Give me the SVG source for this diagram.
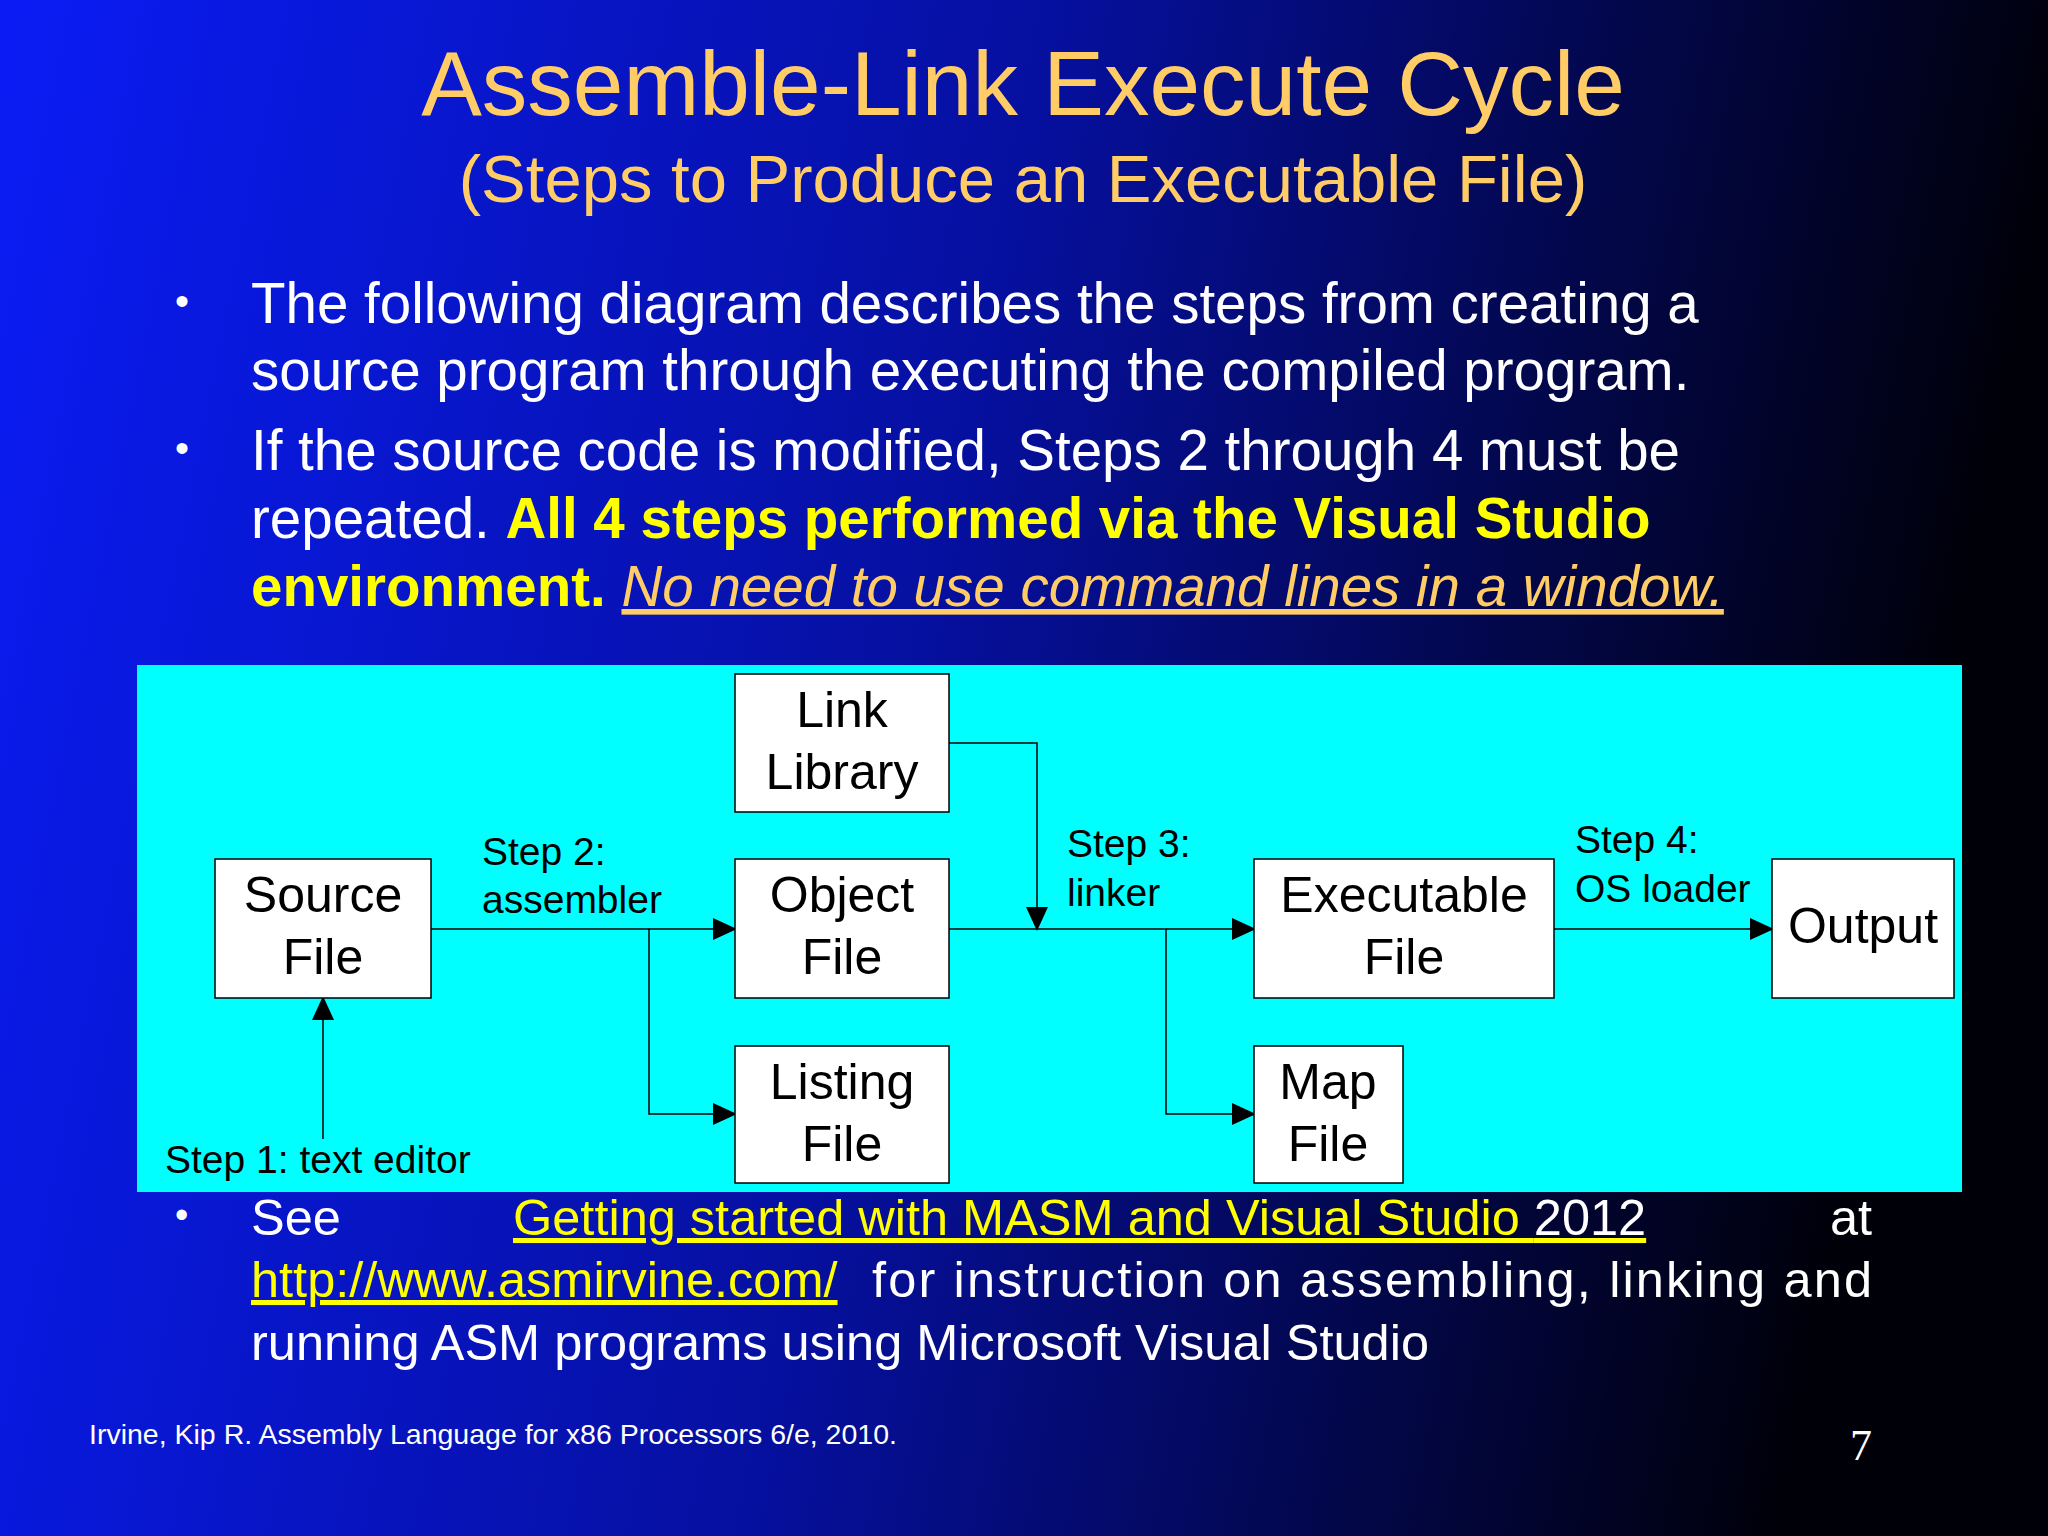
<svg xmlns="http://www.w3.org/2000/svg" width="2048" height="1536" viewBox="0 0 2048 1536">
<defs>
<linearGradient id="bg" x1="0" y1="0" x2="1" y2="0.15">
<stop offset="0" stop-color="#0a1cf5"/><stop offset="0.5" stop-color="#0610a0"/><stop offset="1" stop-color="#000008"/>
</linearGradient>
<marker id="ar" markerWidth="24" markerHeight="24" refX="22" refY="11" orient="auto" markerUnits="userSpaceOnUse" viewBox="0 0 24 22">
<path d="M0,0 L24,11 L0,22 z" fill="#000"/>
</marker>
<style>
.t{font-family:"Liberation Sans",Arial,sans-serif;}
.w{fill:#fff;font-size:56.5px}
.box{fill:#fff;stroke:#000;stroke-width:1.5}
.bt{font-family:"Liberation Sans Narrow","Liberation Sans",Arial,sans-serif;font-size:50px;fill:#000;text-anchor:middle}
.lb{font-family:"Liberation Sans Narrow","Liberation Sans",Arial,sans-serif;font-size:39px;fill:#000}
.c{fill:none;stroke:#000;stroke-width:1.5}
.b2{fill:#fff;font-size:50.5px}
</style>
</defs>
<rect width="2048" height="1536" fill="url(#bg)"/>
<text class="t" x="1023" y="115" font-size="91" fill="#ffcc66" text-anchor="middle">Assemble-Link Execute Cycle</text>
<text class="t" x="1023" y="202" font-size="67" fill="#ffcc66" text-anchor="middle">(Steps to Produce an Executable File)</text>
<g class="t w">
<text x="175" y="315" font-size="40">•</text>
<text x="251" y="323">The following diagram describes the steps from creating a</text>
<text x="251" y="390">source program through executing the compiled program.</text>
<text x="175" y="462" font-size="40">•</text>
<text x="251" y="470">If the source code is modified, Steps 2 through 4 must be</text>
<text x="251" y="538">repeated. <tspan fill="#ffff00" font-weight="bold">All 4 steps performed via the Visual Studio</tspan></text>
<text x="251" y="606"><tspan fill="#ffff00" font-weight="bold">environment.</tspan> <tspan fill="#ffcc66" font-style="italic" text-decoration="underline">No need to use command lines in a window.</tspan></text>
</g>
<rect x="137" y="665" width="1825" height="527" fill="#00ffff"/>
<g id="connectors">
<path class="c" d="M431,929 H735" marker-end="url(#ar)"/>
<path class="c" d="M649,929 V1114 H735" marker-end="url(#ar)"/>
<path class="c" d="M949,743 H1037 V929" marker-end="url(#ar)"/>
<path class="c" d="M949,929 H1254" marker-end="url(#ar)"/>
<path class="c" d="M1166,929 V1114 H1254" marker-end="url(#ar)"/>
<path class="c" d="M1554,929 H1772" marker-end="url(#ar)"/>
<path class="c" d="M323,1139 V998" marker-end="url(#ar)"/>
</g>
<g id="link"><rect class="box" x="735" y="674" width="214" height="138"/><text class="bt" x="842" y="727">Link</text><text class="bt" x="842" y="789">Library</text></g>
<g id="source"><rect class="box" x="215" y="859" width="216" height="139"/><text class="bt" x="323" y="912">Source</text><text class="bt" x="323" y="974">File</text></g>
<g id="object"><rect class="box" x="735" y="859" width="214" height="139"/><text class="bt" x="842" y="912">Object</text><text class="bt" x="842" y="974">File</text></g>
<g id="listing"><rect class="box" x="735" y="1046" width="214" height="137"/><text class="bt" x="842" y="1099">Listing</text><text class="bt" x="842" y="1161">File</text></g>
<g id="exe"><rect class="box" x="1254" y="859" width="300" height="139"/><text class="bt" x="1404" y="912">Executable</text><text class="bt" x="1404" y="974">File</text></g>
<g id="map"><rect class="box" x="1254" y="1046" width="149" height="137"/><text class="bt" x="1328" y="1099">Map</text><text class="bt" x="1328" y="1161">File</text></g>
<g id="output"><rect class="box" x="1772" y="859" width="182" height="139"/><text class="bt" x="1863" y="943">Output</text></g>
<text class="lb" x="482" y="865">Step 2:</text><text class="lb" x="482" y="913">assembler</text>
<text class="lb" x="1067" y="857">Step 3:</text><text class="lb" x="1067" y="906">linker</text>
<text class="lb" x="1575" y="853">Step 4:</text><text class="lb" x="1575" y="902">OS loader</text>
<text class="lb" x="165" y="1173">Step 1: text editor</text>
<g class="t b2">
<text x="175" y="1228" font-size="38">•</text>
<text x="251" y="1235">See</text>
<text x="513" y="1235" fill="#ffff00" text-decoration="underline">Getting started with MASM and Visual Studio <tspan fill="#fff">2012</tspan></text>
<text x="1872" y="1235" text-anchor="end">at</text>
<text x="251" y="1297" fill="#ffff00" text-decoration="underline">http://www.asmirvine.com/</text>
<text x="1872" y="1297" text-anchor="end" textLength="1000" lengthAdjust="spacing">for instruction on assembling, linking and</text>
<text x="251" y="1360">running ASM programs using Microsoft Visual Studio</text>
</g>
<text class="t" x="89" y="1444" font-size="28.5" fill="#fff">Irvine, Kip R. Assembly Language for x86 Processors 6/e, 2010.</text>
<text x="1861" y="1460" font-size="44" fill="#fff" font-family="Liberation Serif,serif" text-anchor="middle">7</text>
</svg>
